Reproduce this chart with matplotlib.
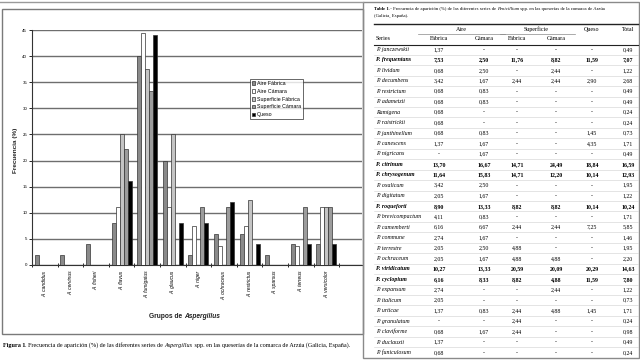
import matplotlib
matplotlib.use("Agg")
import matplotlib.pyplot as plt
import numpy as np
from matplotlib.lines import Line2D
from matplotlib.patches import Rectangle

W, H = 640, 360

# ---------------- Chart data ----------------
groups = ["A. candidus", "A. cervinus", "A. fisheri", "A. flavus", "A. fumigatus",
          "A. glaucus", "A. niger", "A. ochraceus", "A. restrictus", "A. sparsus",
          "A. terreus", "A. versicolor"]
series_names = ["Aire Fábrica", "Aire Cámara", "Superficie Fábrica", "Superficie Cámara", "Queso"]
aire_fabrica = [2, 2, 4, 8, 40, 20, 2, 6, 6, 2, 4, 4]
aire_camara = [0, 0, 0, 11.1, 44.4, 11.1, 7.4, 3.7, 7.4, 0, 3.7, 11.1]
superficie_fabrica = [0, 0, 0, 25, 37.5, 25, 0, 0, 12.5, 0, 0, 11.1]
superficie_camara = [0, 0, 0, 22.2, 33.3, 0, 11.1, 11.1, 0, 0, 11.1, 11.1]
queso = [0, 0, 0, 16, 44, 8, 8, 12, 4, 0, 4, 4]
yticks = [0, 5, 10, 15, 20, 25, 30, 35, 40, 45]

# ---------------- Table data ----------------
tbl_series = ["P. janczewskii", "P. frequentans", "P. lividum", "P. decumbens", "P. restrictum",
              "P. adametzii", "Ramigena", "P. raistrickii", "P. janthinellum", "P. canescens",
              "P. nigricans", "P. citrinum", "P. chrysogenum", "P. oxalicum", "P. digitatum",
              "P. roqueforti", "P. brevicompactum", "P. camemberti", "P. commune", "P. terrestre",
              "P. ochraceum", "P. viridicatum", "P. cyclopium", "P. expansum", "P. italicum",
              "P. urticae", "P. granulatum", "P. claviforme", "P. duclauxii", "P. funiculosum"]
tbl_aire_fab = ["1,37", "7,53", "0,68", "3,42", "0,68", "0,68", "0,68", "0,68", "0,68", "1,37",
                "-", "13,70", "11,64", "3,42", "2,05", "8,90", "4,11", "6,16", "2,74", "2,05",
                "2,05", "10,27", "6,16", "2,74", "2,05", "1,37", "-", "0,68", "1,37", "0,68"]
tbl_aire_cam = ["-", "2,50", "2,50", "1,67", "0,83", "0,83", "-", "-", "0,83", "1,67",
                "1,67", "16,67", "15,83", "2,50", "1,67", "13,33", "0,83", "6,67", "1,67", "2,50",
                "1,67", "13,33", "8,33", "-", "-", "0,83", "-", "1,67", "-", "-"]
tbl_sup_fab = ["-", "11,76", "-", "2,44", "-", "-", "-", "-", "-", "-",
               "-", "14,71", "14,71", "-", "-", "8,82", "-", "2,44", "-", "4,88",
               "4,88", "20,59", "8,82", "-", "-", "2,44", "2,44", "2,44", "-", "-"]
tbl_sup_cam = ["-", "8,82", "2,44", "2,44", "-", "-", "-", "-", "-", "-",
               "-", "24,49", "12,20", "-", "-", "8,82", "-", "2,44", "-", "-",
               "4,88", "20,09", "4,88", "2,44", "-", "4,88", "-", "-", "-", "-"]
tbl_queso = ["-", "11,59", "-", "2,90", "-", "-", "-", "-", "1,45", "4,35",
             "-", "18,84", "10,14", "-", "-", "10,14", "-", "7,25", "-", "-",
             "-", "20,29", "11,59", "-", "-", "1,45", "-", "-", "-", "-"]
tbl_total = ["0,49", "7,07", "1,22", "2,68", "0,49", "0,49", "0,24", "0,24", "0,73", "1,71",
             "0,49", "16,59", "12,93", "1,95", "1,22", "10,24", "1,71", "5,85", "1,46", "1,95",
             "2,20", "14,63", "7,80", "1,22", "0,73", "1,71", "0,24", "0,98", "0,49", "0,24"]
tbl_bold = ["P. frequentans", "P. citrinum", "P. chrysogenum", "P. roqueforti",
            "P. viridicatum", "P. cyclopium"]

serif = ["Liberation Serif", "DejaVu Serif"]
sans = ["Liberation Sans", "DejaVu Sans"]

fig = plt.figure(figsize=(6.4, 3.6), dpi=100)
fig.patch.set_facecolor("white")
renderer = fig.canvas.get_renderer()


def fx(x):
    return x / W


def fy(y):
    return 1 - y / H


def segments(x0, y, parts, **kw):
    """Place consecutive text pieces (text, style, weight) left to right from pixel x0."""
    x = x0
    for txt, st, wt in parts:
        t = fig.text(fx(x), fy(y), txt, ha="left", va="center", style=st, fontweight=wt, **kw)
        bb = t.get_window_extent(renderer=renderer)
        x += bb.width
    return x


# chart outer frame
fig.add_artist(Rectangle((fx(2), fy(334)), fx(361), (332 - 7) / H, transform=fig.transFigure,
                         fill=False, edgecolor="#7a7a7a", lw=1.0))
fig.add_artist(Line2D([0, fx(363)], [fy(1.5), fy(1.5)], transform=fig.transFigure,
                      color="#9a9a9a", lw=1.0))

# axes
ax_left, ax_right, ax_top, ax_bot = 32, 362, 30, 265
ax = fig.add_axes([fx(ax_left), fy(ax_bot), (ax_right - ax_left) / W, (ax_bot - ax_top) / H])
ax.set_facecolor("white")
x = np.arange(len(groups))
bw = 0.156
colors = ["#8a8a8a", "#ffffff", "#c4c4c4", "#9c9c9c", "#000000"]
data = [aire_fabrica, aire_camara, superficie_fabrica, superficie_camara, queso]
for k, (vals, c, nm) in enumerate(zip(data, colors, series_names)):
    ax.bar(x + (k - 2) * bw, vals, width=bw, color=c, edgecolor="#333333", lw=0.5,
           label=nm, zorder=3)

ax.set_xlim(-0.5, 12.39)
ax.set_ylim(0, 45)
ax.set_yticks(yticks)
ax.set_yticklabels([str(v) for v in yticks], fontsize=3.2, family=sans)
ax.yaxis.grid(True, color="#6e6e6e", lw=1.0, zorder=0)
ax.set_axisbelow(True)
for s in ["top", "right"]:
    ax.spines[s].set_visible(False)
ax.spines["left"].set_color("#333333")
ax.spines["bottom"].set_color("#333333")
ax.spines["left"].set_linewidth(0.8)
ax.spines["bottom"].set_linewidth(0.8)
ax.tick_params(axis="y", length=2, width=0.6, pad=1.5)
ax.set_xticks(x)
ax.set_xticklabels(groups, rotation=90, fontsize=3.6, family=sans, style="italic")
ax.tick_params(axis="x", length=0, pad=4)
ax.set_xticks(np.arange(-0.5, 12.5, 1.0), minor=True)
ax.tick_params(axis="x", which="minor", length=2.5, width=0.6, direction="inout")

leg = ax.legend(loc="upper left", bbox_to_anchor=((247 - ax_left) / (ax_right - ax_left),
                                                   (ax_bot - 76) / (ax_bot - ax_top)),
                frameon=True, fancybox=False, handlelength=0.7,
                handleheight=0.7, handletextpad=0.3, borderpad=0.4, labelspacing=0.55,
                prop={"family": sans, "size": 3.8})
leg.get_frame().set_edgecolor("#222222")
leg.get_frame().set_linewidth(0.6)

fig.text(fx(15), fy(150), "Frecuencia (%)", rotation=90, ha="center", va="center",
         fontsize=4.6, fontweight="bold", family=sans, color="#222222")
segments(149, 316, [("Grupos de ", "normal", "bold"), ("Aspergillus", "italic", "bold")],
         fontsize=4.8, family=sans, color="#222222")

# caption
segments(3, 345, [("Figura 1", "normal", "bold"),
                  (". Frecuencia de aparición (%) de las diferentes series de ", "normal", "normal"),
                  ("Aspergillus", "italic", "normal"),
                  (" spp. en las queserías de la comarca de Arzúa (Galicia, España).", "normal", "normal")],
         fontsize=4.4, family=serif)

# ---------------- Table ----------------
fig.add_artist(Rectangle((fx(363), fy(358)), fx(276), 356 / H, transform=fig.transFigure,
                         fill=False, edgecolor="#8a8a8a", lw=1.0))
segments(374, 9, [("Table 1", "normal", "bold"),
                  (".- Frecuencia de aparición (%) de las diferentes series de ", "normal", "normal"),
                  ("Penicillium", "italic", "normal"),
                  (" spp. en las queserías de la comarca de Arzúa", "normal", "normal")],
         fontsize=3.4, family=serif)
fig.text(fx(374), fy(15.5), "(Galicia, España).", ha="left", va="center", fontsize=3.4,
         family=serif)

col_x = [439, 484, 517, 556, 592, 628]
name_x = 376
fig.add_artist(Line2D([fx(374), fx(638)], [fy(23.5), fy(23.5)], transform=fig.transFigure,
                      color="#222222", lw=1.0))
for txt, xc in [("Aire", 461), ("Superficie", 536), ("Queso", 592), ("Total", 628)]:
    fig.text(fx(xc), fy(29.5), txt, ha="center", va="center", fontsize=4.3, family=serif)
for a, b in [(418, 505), (500, 575)]:
    fig.add_artist(Line2D([fx(a), fx(b)], [fy(34), fy(34)], transform=fig.transFigure,
                          color="#888888", lw=0.5))
fig.text(fx(name_x), fy(39), "Series", ha="left", va="center", fontsize=4.3, family=serif)
for txt, xc in zip(["Fábrica", "Cámara", "Fábrica", "Cámara"], col_x[:4]):
    fig.text(fx(xc), fy(39), txt, ha="center", va="center", fontsize=4.3, family=serif)
fig.add_artist(Line2D([fx(374), fx(638)], [fy(44.5), fy(44.5)], transform=fig.transFigure,
                      color="#222222", lw=0.8))

cols = [tbl_aire_fab, tbl_aire_cam, tbl_sup_fab, tbl_sup_cam, tbl_queso, tbl_total]
for i, nm in enumerate(tbl_series):
    yy = 49.5 + 10.45 * i
    bold = nm in tbl_bold
    fw = "bold" if bold else "normal"
    fig.text(fx(name_x), fy(yy), nm, ha="left", va="center", fontsize=4.2, family=serif,
             style="italic", fontweight=fw)
    for c, xc in zip(cols, col_x):
        fig.text(fx(xc), fy(yy), c[i], ha="center", va="center", fontsize=4.2, family=serif,
                 fontweight=fw)
    if i < len(tbl_series) - 1:
        fig.add_artist(Line2D([fx(374), fx(638)], [fy(yy + 5.2), fy(yy + 5.2)],
                              transform=fig.transFigure, color="#cfcfcf", lw=0.4))

fig.savefig("out.png", dpi=100, facecolor="white")
